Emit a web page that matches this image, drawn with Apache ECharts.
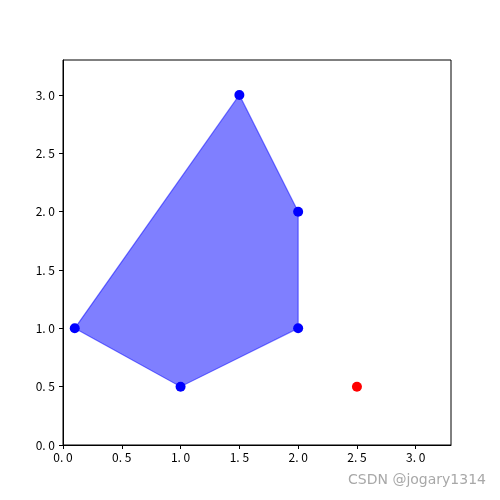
<!DOCTYPE html>
<html><head><meta charset="utf-8">
<script src="https://cdn.jsdelivr.net/npm/echarts@6/dist/echarts.min.js"></script>
<style>html,body{margin:0;padding:0;background:#fff}#c{width:500px;height:500px}</style>
</head><body><div id="c"></div>
<script>
var polygonX = [0.1, 1.0, 2.0, 2.0, 1.5];
var polygonY = [1.0, 0.5, 1.0, 2.0, 3.0];
var outsideX = [2.5];
var outsideY = [0.5];
var axisMin = 0, axisMax = 3.3, axisStep = 0.5;

var polyData = polygonX.map(function(x, i){ return [x, polygonY[i]]; });
var outData = outsideX.map(function(x, i){ return [x, outsideY[i]]; });
var font = '"Noto Sans CJK SC", "DejaVu Sans", sans-serif';

var chart = echarts.init(document.getElementById('c'), null, {renderer: 'canvas'});
function axis(pos, margin) {
  return {
    type: 'value', min: axisMin, max: axisMax, interval: axisStep, position: pos,
    axisLine: {show: true, onZero: false, lineStyle: {color: '#000', width: 1}},
    axisTick: {show: true, inside: false, length: 4, lineStyle: {color: '#000'}},
    axisLabel: {color: '#000', fontSize: 12, fontFamily: font, margin: margin, showMaxLabel: false,
      formatter: function(v){ return v.toFixed(1).replace('.', '. '); }},
    splitLine: {show: false}
  };
}
chart.setOption({
  animation: false,
  grid: {left: 63, right: 49, top: 60, bottom: 55, show: true, borderColor: '#000', borderWidth: 1},
  xAxis: axis('bottom', 6),
  yAxis: axis('left', 8),
  series: [
    {
      type: 'custom', data: polyData, z: 1,
      renderItem: function(params, api) {
        if (params.dataIndex !== 0) return;
        var pts = polyData.map(function(p){ return api.coord(p); });
        return {type: 'polygon', shape: {points: pts},
          style: {fill: 'rgba(0,0,255,0.5)', stroke: 'rgba(0,0,255,0.5)', lineWidth: 1.2}};
      }
    },
    {type: 'scatter', data: polyData, symbolSize: 10, itemStyle: {color: '#0000ff', opacity: 1}, z: 3},
    {type: 'scatter', data: outData, symbolSize: 10, itemStyle: {color: '#ff0000', opacity: 1}, z: 3}
  ],
  graphic: [{type: 'text', right: 14, top: 473,
    style: {text: 'CSDN @jogary1314', fill: '#a8a8a8', font: '14px "DejaVu Sans", sans-serif'}}]
});
</script></body></html>
